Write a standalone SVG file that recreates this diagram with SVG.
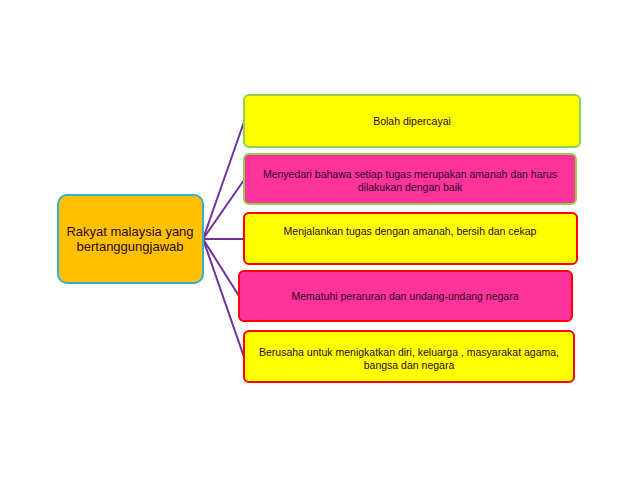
<svg xmlns="http://www.w3.org/2000/svg" width="638" height="478" viewBox="0 0 638 478">
<style>
.b{stroke-width:2}
.t{font-family:"Liberation Sans",Arial,sans-serif;font-size:10.5px;fill:#2a0a2a;text-anchor:middle}
.c{stroke:#7030a0;stroke-width:2;fill:none}
</style>
<rect width="638" height="478" fill="#fff"/>
<g id="connectors">
<line class="c" x1="203" y1="239" x2="244" y2="122"/>
<line class="c" x1="203" y1="239" x2="244" y2="180"/>
<line class="c" x1="203" y1="239" x2="244" y2="239"/>
<line class="c" x1="203" y1="239" x2="239" y2="296"/>
<line class="c" x1="203" y1="239" x2="244" y2="357"/>
</g>
<g id="root"><rect x="58" y="195" width="145" height="88" rx="9" fill="#ffc000" stroke="#31b0d5" stroke-width="2"/>
<text class="t" style="font-size:13px" x="130" y="236">Rakyat malaysia yang</text>
<text class="t" style="font-size:13px" x="130" y="251">bertanggungjawab</text></g>
<g id="n1"><rect class="b" x="244" y="95" width="336" height="52" rx="5" fill="#ffff00" stroke="#92d050"/>
<text class="t" x="412" y="125">Bolah dipercayai</text></g>
<g id="n2"><rect class="b" x="244" y="154" width="332" height="50" rx="5" fill="#ff3399" stroke="#92d050"/>
<text class="t" x="410" y="178">Menyedari bahawa setiap tugas  merupakan amanah  dan harus</text>
<text class="t" x="410" y="191">dilakukan dengan baik</text></g>
<g id="n3"><rect class="b" x="244" y="213" width="333" height="51" rx="5" fill="#ffff00" stroke="#ff0000"/>
<text class="t" x="410" y="235">Menjalankan tugas dengan amanah, bersih dan cekap</text></g>
<g id="n4"><rect class="b" x="239" y="271" width="333" height="50" rx="5" fill="#ff3399" stroke="#ff0000"/>
<text class="t" x="405" y="300">Mematuhi peraruran dan undang-undang negara</text></g>
<g id="n5"><rect class="b" x="244" y="331" width="330" height="51" rx="5" fill="#ffff00" stroke="#ff0000"/>
<text class="t" x="409" y="356">Berusaha untuk menigkatkan diri, keluarga , masyarakat agama,</text>
<text class="t" x="409" y="369">bangsa dan negara</text></g>
</svg>
